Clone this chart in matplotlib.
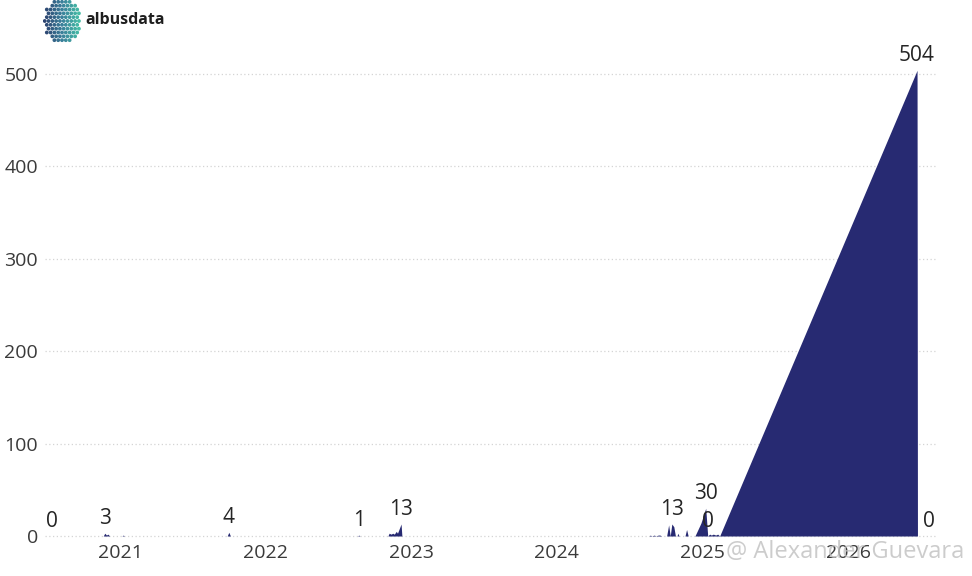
import numpy as np
import matplotlib
import matplotlib.pyplot as plt
from datetime import date

matplotlib.use("Agg")

# series values
dates = [
    "2020-07-14", "2020-11-20", "2020-11-24", "2020-11-28", "2020-12-02", "2020-12-06",
    "2021-01-06", "2021-01-09", "2021-01-12",
    "2021-09-27", "2021-10-01", "2021-10-05",
    "2022-08-20", "2022-08-23", "2022-08-26",
    "2022-11-04", "2022-11-07", "2022-11-12", "2022-11-16", "2022-11-20", "2022-11-25",
    "2022-11-28", "2022-12-07", "2022-12-09",
    "2024-08-20", "2024-08-23", "2024-08-27", "2024-09-02", "2024-09-06", "2024-09-12",
    "2024-09-16", "2024-09-20", "2024-10-03", "2024-10-08", "2024-10-12", "2024-10-16",
    "2024-10-21", "2024-10-25", "2024-10-29", "2024-10-31", "2024-11-03", "2024-11-18",
    "2024-11-22", "2024-11-26", "2024-12-13", "2024-12-28", "2025-01-09", "2025-01-14",
    "2025-01-19", "2025-01-23", "2025-01-28", "2025-02-03", "2025-02-08", "2025-02-13",
    "2026-06-23", "2026-06-24",
]
values = [
    0, 0, 3, 1, 2, 0,
    0, 1, 0,
    0, 4, 0,
    0, 1, 0,
    0, 3, 2, 3, 2, 5,
    3, 13, 0,
    0, 1, 0, 1, 0, 1,
    1, 0, 0, 12, 0, 13,
    10, 0, 0, 3, 0, 0,
    7, 0, 0, 14, 30, 0,
    2, 1, 2, 1, 2, 0,
    504, 0,
]
# points that carry a data label in the original
labelled = ["2020-07-14", "2020-11-24", "2021-10-01", "2022-08-23", "2022-12-07",
            "2024-10-16", "2025-01-09", "2025-01-14", "2026-06-23", "2026-06-24"]

years = [2021, 2022, 2023, 2024, 2025, 2026]
y_ticks = [0, 100, 200, 300, 400, 500]

navy = "#272A72"
txt = "#3a3a3a"
plt.rcParams["font.family"] = ["Open Sans", "DejaVu Sans"]

x = [date.fromisoformat(d) for d in dates]

fig = plt.figure(figsize=(9.72, 5.76), dpi=100)
W, H = 972, 576
ax = fig.add_axes([45 / W, (H - 536) / H, (935 - 45) / W, (536 - 40) / H])

ax.fill_between(x, values, 0, color=navy, linewidth=0)

ax.set_xlim(date(2020, 6, 27), date(2026, 8, 7))
ax.set_ylim(0, 536.8)

ax.set_yticks(y_ticks)
ax.set_xticks([date(y, 1, 1) for y in years])
ax.set_xticklabels([str(y) for y in years])
ax.tick_params(axis="both", length=0, labelsize=14, colors=txt)
ax.tick_params(axis="y", pad=5)
ax.tick_params(axis="x", pad=6)
ax.grid(axis="y", color="#d4d4d4", linestyle=(0, (1, 2)), linewidth=0.9, clip_on=False)
ax.set_axisbelow(True)
for s in ax.spines.values():
    s.set_visible(False)

for d, v in zip(dates, values):
    if d in labelled:
        dx = 8 if d == dates[-1] else 0
        ax.annotate(str(v), (date.fromisoformat(d), v), xytext=(dx, 3),
                    textcoords="offset points", ha="center", va="bottom",
                    fontsize=15, color="#252525")

# logo
lax = fig.add_axes([43 / W, (H - 44) / H, 38 / W, 46 / H])
lax.set_xlim(-1, 1)
lax.set_ylim(-1, 1)
lax.axis("off")
gx, gy = np.meshgrid(np.linspace(-1, 1, 11), np.linspace(-1, 1, 13))
gx[::2] += 0.09
inside = (gx / 0.95) ** 2 + (gy / 1.0) ** 2 <= 1
cmap = matplotlib.colors.LinearSegmentedColormap.from_list("logo", ["#2b3d6b", "#3a7f9a", "#46c2a6"])
lax.scatter(gx[inside], gy[inside], s=3, c=gx[inside], cmap=cmap, vmin=-1, vmax=1)
fig.text(85 / W, 1 - 20 / H, "albusdata", fontsize=11.5, fontweight="bold",
         color="#1e1e1e", va="center", ha="left")

# watermark
fig.text(726 / W, 1 - 552 / H, "@ Alexander Guevara", fontsize=17, color="#c0c0c0",
         alpha=0.8, va="center", ha="left")

fig.savefig("out.png", dpi=100)
